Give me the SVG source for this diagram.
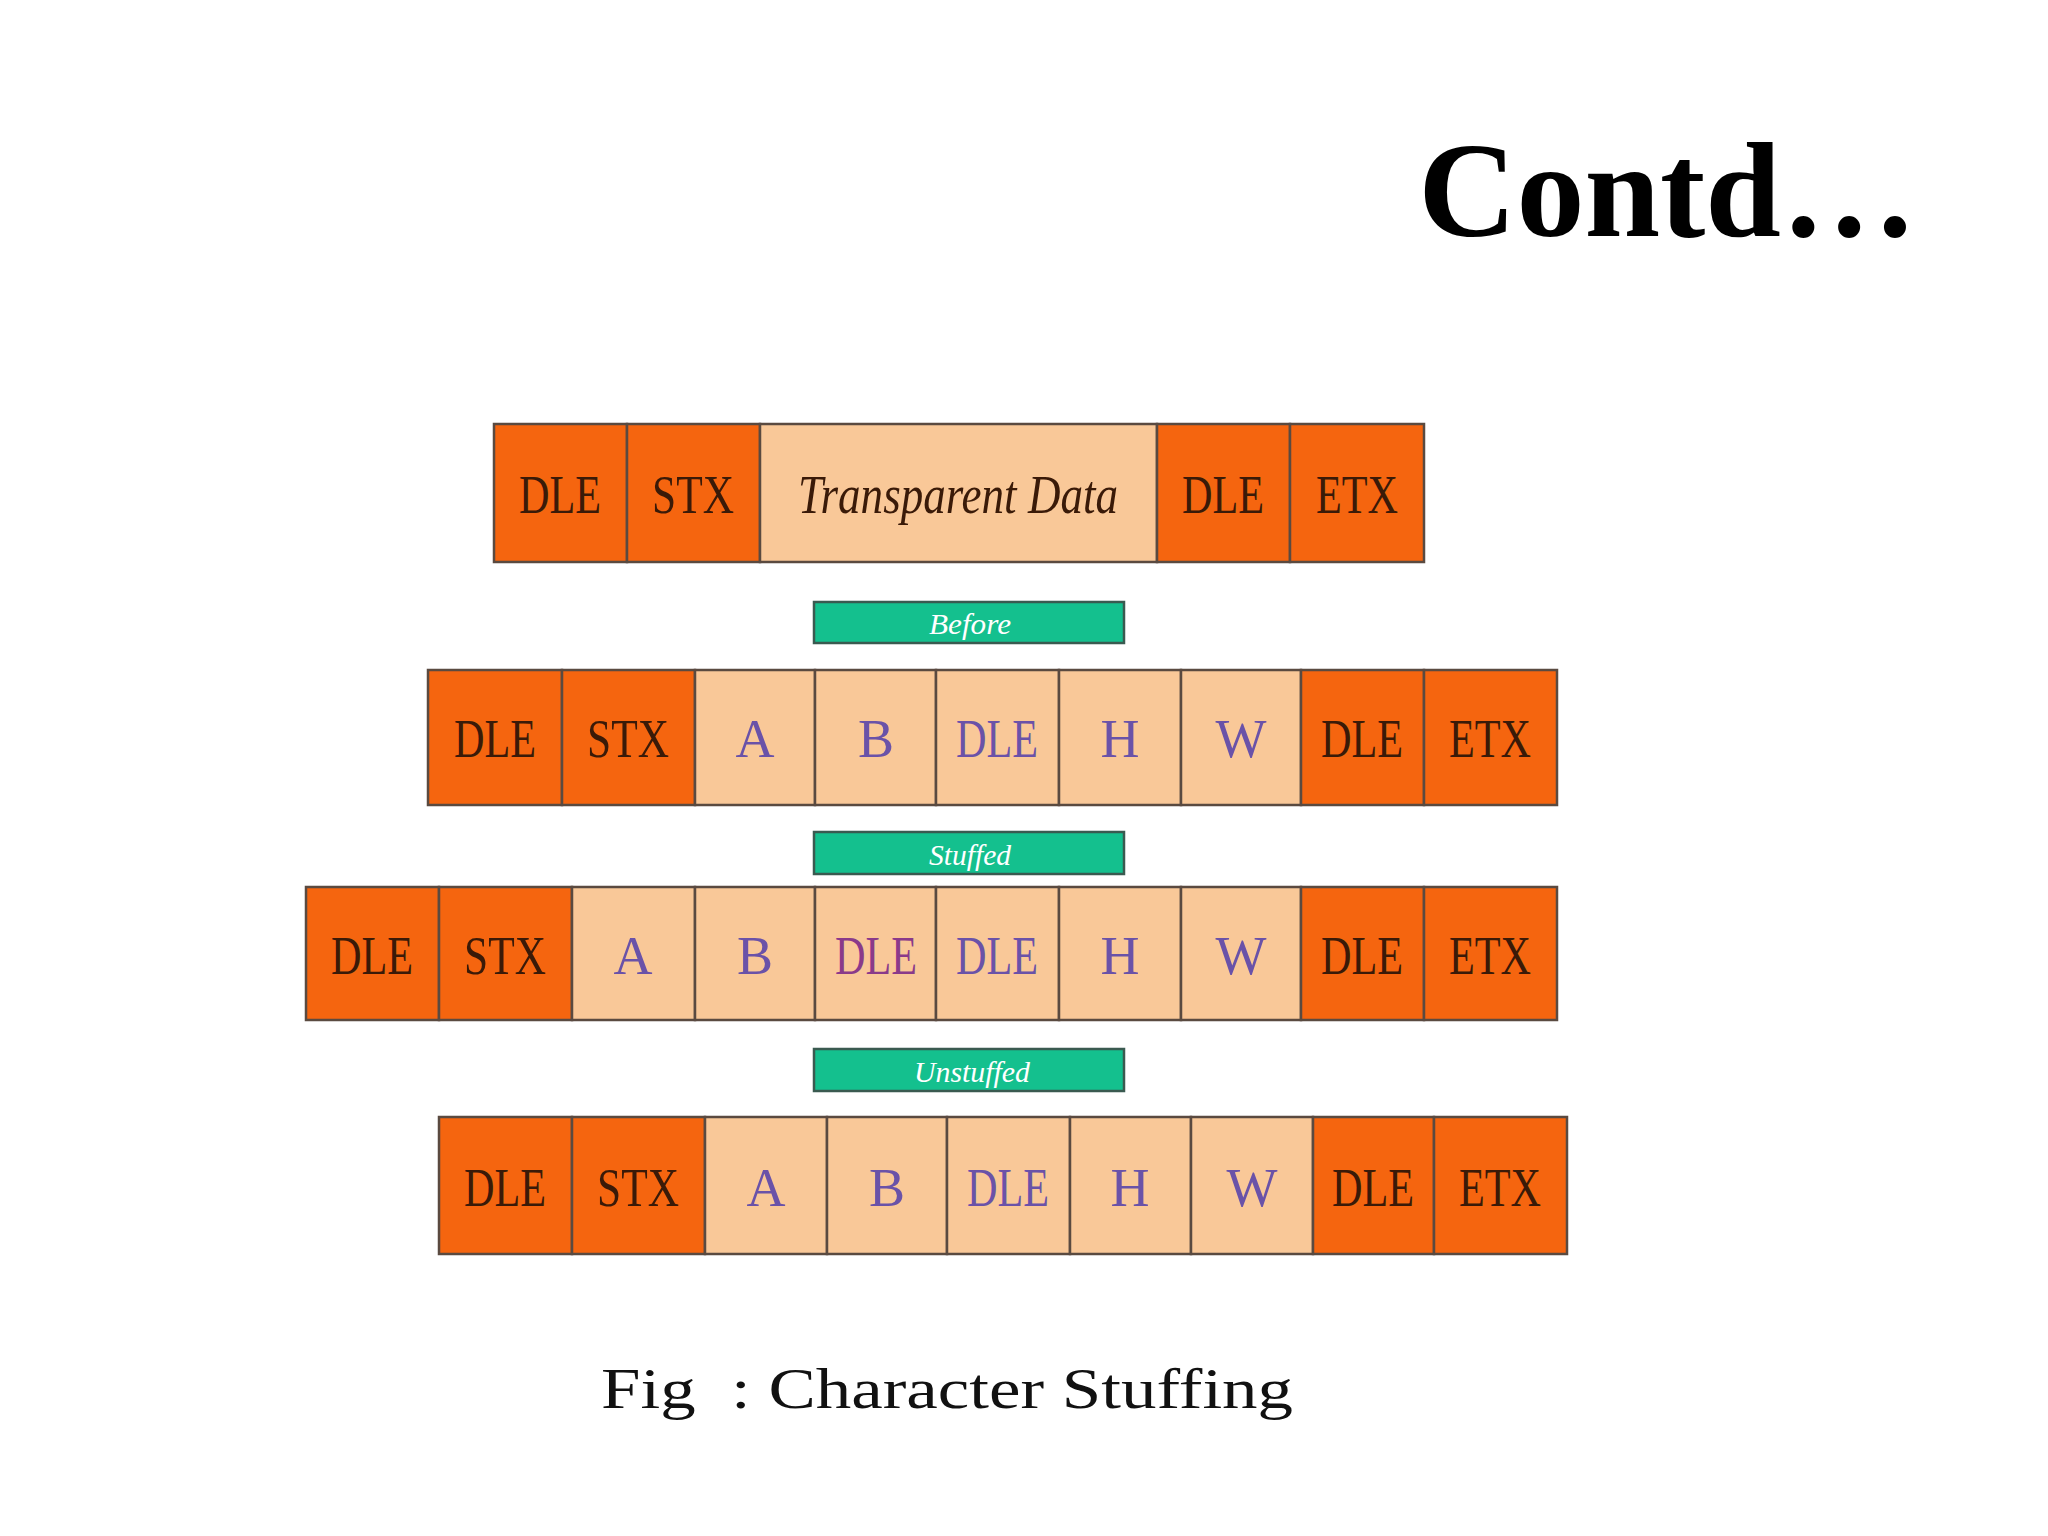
<svg xmlns="http://www.w3.org/2000/svg" width="2048" height="1536" viewBox="0 0 2048 1536">
<style>
.o{fill:#F5650F;stroke:#5a4a40;stroke-width:2.5}
.l{fill:#F9C898;stroke:#5a4a40;stroke-width:2.5}
.g{fill:#14C08E;stroke:#3a5a50;stroke-width:2.5}
text{font-family:"Liberation Serif",serif;text-anchor:middle}
.t{font-size:54px;fill:#3a1a08}
.p{font-size:54px;fill:#6a52a8}
.q{font-size:54px;fill:#8a3a8a}
.w{font-size:30px;fill:#fff;font-style:italic}
</style>
<rect width="2048" height="1536" fill="#fff"/>
<text x="1917" y="236" style="font-size:136px;font-weight:bold;text-anchor:end;fill:#000">Contd…</text>
<g id="row1">
<rect class="o" x="494" y="424" width="133" height="138"/><text class="t" x="560" y="513" textLength="82" lengthAdjust="spacingAndGlyphs">DLE</text>
<rect class="o" x="627" y="424" width="133" height="138"/><text class="t" x="693" y="513" textLength="82" lengthAdjust="spacingAndGlyphs">STX</text>
<rect class="l" x="760" y="424" width="397" height="138"/><text class="t" x="958" y="513" font-style="italic" textLength="320" lengthAdjust="spacingAndGlyphs">Transparent Data</text>
<rect class="o" x="1157" y="424" width="133" height="138"/><text class="t" x="1223" y="513" textLength="82" lengthAdjust="spacingAndGlyphs">DLE</text>
<rect class="o" x="1290" y="424" width="134" height="138"/><text class="t" x="1357" y="513" textLength="82" lengthAdjust="spacingAndGlyphs">ETX</text>
</g>
<g id="before"><rect class="g" x="814" y="602" width="310" height="41"/><text class="w" x="970" y="634" textLength="82" lengthAdjust="spacingAndGlyphs">Before</text></g>
<g id="row2">
<rect class="o" x="428" y="670" width="134" height="135"/><text class="t" x="495" y="757" textLength="82" lengthAdjust="spacingAndGlyphs">DLE</text>
<rect class="o" x="562" y="670" width="133" height="135"/><text class="t" x="628" y="757" textLength="82" lengthAdjust="spacingAndGlyphs">STX</text>
<rect class="l" x="695" y="670" width="120" height="135"/><text class="p" x="755" y="757">A</text>
<rect class="l" x="815" y="670" width="121" height="135"/><text class="p" x="876" y="757">B</text>
<rect class="l" x="936" y="670" width="123" height="135"/><text class="p" x="997" y="757" textLength="82" lengthAdjust="spacingAndGlyphs">DLE</text>
<rect class="l" x="1059" y="670" width="122" height="135"/><text class="p" x="1120" y="757">H</text>
<rect class="l" x="1181" y="670" width="120" height="135"/><text class="p" x="1241" y="757">W</text>
<rect class="o" x="1301" y="670" width="123" height="135"/><text class="t" x="1362" y="757" textLength="82" lengthAdjust="spacingAndGlyphs">DLE</text>
<rect class="o" x="1424" y="670" width="133" height="135"/><text class="t" x="1490" y="757" textLength="82" lengthAdjust="spacingAndGlyphs">ETX</text>
</g>
<g id="stuffed"><rect class="g" x="814" y="832" width="310" height="42"/><text class="w" x="970" y="865" textLength="82" lengthAdjust="spacingAndGlyphs">Stuffed</text></g>
<g id="row3">
<rect class="o" x="306" y="887" width="133" height="133"/><text class="t" x="372" y="974" textLength="82" lengthAdjust="spacingAndGlyphs">DLE</text>
<rect class="o" x="439" y="887" width="133" height="133"/><text class="t" x="505" y="974" textLength="82" lengthAdjust="spacingAndGlyphs">STX</text>
<rect class="l" x="572" y="887" width="123" height="133"/><text class="p" x="633" y="974">A</text>
<rect class="l" x="695" y="887" width="120" height="133"/><text class="p" x="755" y="974">B</text>
<rect class="l" x="815" y="887" width="121" height="133"/><text class="q" x="876" y="974" textLength="82" lengthAdjust="spacingAndGlyphs">DLE</text>
<rect class="l" x="936" y="887" width="123" height="133"/><text class="p" x="997" y="974" textLength="82" lengthAdjust="spacingAndGlyphs">DLE</text>
<rect class="l" x="1059" y="887" width="122" height="133"/><text class="p" x="1120" y="974">H</text>
<rect class="l" x="1181" y="887" width="120" height="133"/><text class="p" x="1241" y="974">W</text>
<rect class="o" x="1301" y="887" width="123" height="133"/><text class="t" x="1362" y="974" textLength="82" lengthAdjust="spacingAndGlyphs">DLE</text>
<rect class="o" x="1424" y="887" width="133" height="133"/><text class="t" x="1490" y="974" textLength="82" lengthAdjust="spacingAndGlyphs">ETX</text>
</g>
<g id="unstuffed"><rect class="g" x="814" y="1049" width="310" height="42"/><text class="w" x="972" y="1082" textLength="116" lengthAdjust="spacingAndGlyphs">Unstuffed</text></g>
<g id="row4">
<rect class="o" x="439" y="1117" width="133" height="137"/><text class="t" x="505" y="1206" textLength="82" lengthAdjust="spacingAndGlyphs">DLE</text>
<rect class="o" x="572" y="1117" width="133" height="137"/><text class="t" x="638" y="1206" textLength="82" lengthAdjust="spacingAndGlyphs">STX</text>
<rect class="l" x="705" y="1117" width="122" height="137"/><text class="p" x="766" y="1206">A</text>
<rect class="l" x="827" y="1117" width="120" height="137"/><text class="p" x="887" y="1206">B</text>
<rect class="l" x="947" y="1117" width="123" height="137"/><text class="p" x="1008" y="1206" textLength="82" lengthAdjust="spacingAndGlyphs">DLE</text>
<rect class="l" x="1070" y="1117" width="121" height="137"/><text class="p" x="1130" y="1206">H</text>
<rect class="l" x="1191" y="1117" width="122" height="137"/><text class="p" x="1252" y="1206">W</text>
<rect class="o" x="1313" y="1117" width="121" height="137"/><text class="t" x="1373" y="1206" textLength="82" lengthAdjust="spacingAndGlyphs">DLE</text>
<rect class="o" x="1434" y="1117" width="133" height="137"/><text class="t" x="1500" y="1206" textLength="82" lengthAdjust="spacingAndGlyphs">ETX</text>
</g>
<g id="connectors"></g>
<text x="947" y="1408" style="font-size:58px;fill:#111" textLength="692" lengthAdjust="spacingAndGlyphs" xml:space="preserve">Fig  : Character Stuffing</text>
</svg>
